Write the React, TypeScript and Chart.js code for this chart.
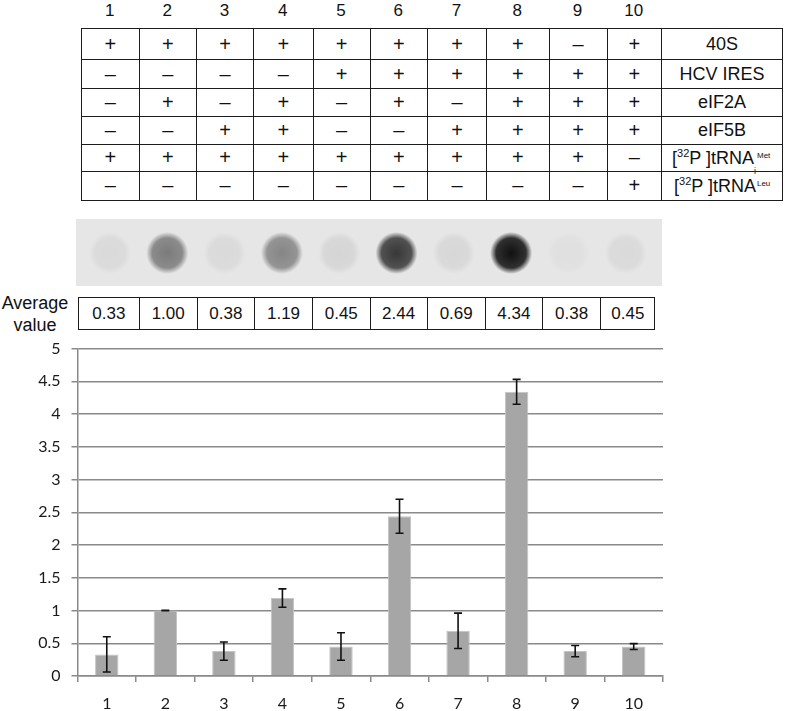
import React, { useEffect, useRef } from "react";
import { Chart, registerables } from "chart.js";

Chart.register(...registerables);

// ---------- data ----------
const lanes = ["1", "2", "3", "4", "5", "6", "7", "8", "9", "10"];
const averageValues = [0.33, 1.0, 0.38, 1.19, 0.45, 2.44, 0.69, 4.34, 0.38, 0.45];
const errorValues = [0.27, 0.004, 0.14, 0.14, 0.21, 0.26, 0.27, 0.19, 0.085, 0.045];
const blotDensity = [0.06, 0.5, 0.06, 0.45, 0.08, 0.82, 0.07, 1.0, 0.03, 0.06];
const yTicks = [0, 0.5, 1, 1.5, 2, 2.5, 3, 3.5, 4, 4.5, 5];

const row40S = ["+", "+", "+", "+", "+", "+", "+", "+", "–", "+"];
const rowHCV = ["–", "–", "–", "–", "+", "+", "+", "+", "+", "+"];
const rowEIF2A = ["–", "+", "–", "+", "–", "+", "–", "+", "+", "+"];
const rowEIF5B = ["–", "–", "+", "+", "–", "–", "+", "+", "+", "+"];
const rowMet = ["+", "+", "+", "+", "+", "+", "+", "+", "+", "–"];
const rowLeu = ["–", "–", "–", "–", "–", "–", "–", "–", "–", "+"];

const rowLabels: React.ReactNode[] = [
  "40S",
  "HCV IRES",
  "eIF2A",
  "eIF5B",
  <span key="met">
    [<sup style={{ fontSize: 11 }}>32</sup>P ]tRNA
    <span style={{ display: "inline-block", position: "relative", width: 18 }}>
      <span style={{ position: "absolute", left: 0, top: 2, fontSize: 9 }}>i</span>
      <span style={{ position: "absolute", left: 3, top: -13, fontSize: 8 }}>Met</span>
    </span>
  </span>,
  <span key="leu">
    [<sup style={{ fontSize: 11 }}>32</sup>P ]tRNA
    <span style={{ display: "inline-block", position: "relative", width: 14 }}>
      <span style={{ position: "absolute", left: 1, top: -13, fontSize: 8 }}>Leu</span>
    </span>
  </span>,
];
const tableRows = [row40S, rowHCV, rowEIF2A, rowEIF5B, rowMet, rowLeu];

// ---------- layout ----------
const colEdges = [81, 138.5, 196, 253, 312.5, 369.5, 427, 486, 548.5, 606.5, 661, 783];
const rowEdges = [28, 59, 88, 116, 143.5, 170.5, 200.5];
const avgEdges = [78, 138.7, 196.7, 254, 312, 369.5, 426.7, 484.7, 542, 600.3, 655.3];
const LINE = "1.5px solid #1c1c1c";
const ARIAL = '"Liberation Sans", Arial, sans-serif';

const errorBarPlugin = {
  id: "errorBars",
  afterDatasetsDraw(chart: any) {
    const meta = chart.getDatasetMeta(0);
    const y = chart.scales.y;
    const ctx = chart.ctx;
    ctx.save();
    ctx.strokeStyle = "#111";
    ctx.lineWidth = 1.6;
    meta.data.forEach((bar: any, i: number) => {
      const v = averageValues[i];
      const e = errorValues[i];
      const x = bar.x;
      const top = y.getPixelForValue(v + e);
      const bot = y.getPixelForValue(v - e);
      const cap = 4;
      ctx.beginPath();
      ctx.moveTo(x, top);
      ctx.lineTo(x, bot);
      ctx.moveTo(x - cap, top);
      ctx.lineTo(x + cap, top);
      ctx.moveTo(x - cap, bot);
      ctx.lineTo(x + cap, bot);
      ctx.stroke();
    });
    ctx.restore();
  },
};

function BarChart() {
  const ref = useRef<HTMLCanvasElement>(null);
  useEffect(() => {
    if (!ref.current) return;
    const gridColor = "#8a8a8a";
    const chart = new Chart(ref.current, {
      type: "bar",
      data: {
        labels: lanes,
        datasets: [
          {
            data: averageValues,
            backgroundColor: "#a6a6a6",
            borderColor: "#c4c4c4",
            borderWidth: 1,
            barPercentage: 0.4,
            categoryPercentage: 1,
          },
        ],
      },
      options: {
        animation: false,
        responsive: true,
        maintainAspectRatio: false,
        layout: { padding: { left: 0, right: 122, top: 0, bottom: 0 } },
        plugins: { legend: { display: false }, tooltip: { enabled: false } },
        scales: {
          x: {
            offset: true,
            grid: {
              display: true,
              drawOnChartArea: false,
              drawTicks: true,
              tickLength: 6,
              color: gridColor,
              lineWidth: 1.5,
              offset: true,
            },
            border: { color: gridColor, width: 1.5 },
            ticks: {
              color: "#1a1a1a",
              font: { family: "Lato", size: 16 },
              padding: 12,
            },
            afterFit: (s: any) => {
              s.height = 35;
            },
          },
          y: {
            min: 0,
            max: 5,
            afterBuildTicks: (s: any) => {
              s.ticks = yTicks.map((v) => ({ value: v }));
            },
            grid: {
              color: gridColor,
              lineWidth: 1.5,
              tickLength: 6,
              drawTicks: true,
            },
            border: { color: gridColor, width: 1.5 },
            ticks: {
              color: "#1a1a1a",
              font: { family: "Lato", size: 16 },
              padding: 11,
              callback: (v: any) => String(v),
            },
            afterFit: (s: any) => {
              s.width = 77.5;
            },
          },
        },
      },
      plugins: [errorBarPlugin],
    });
    return () => chart.destroy();
  }, []);
  return (
    <div style={{ position: "absolute", left: 0, top: 328, width: 785, height: 383 }}>
      <canvas ref={ref} />
    </div>
  );
}

function Blot() {
  const left = 76;
  const width = 586;
  const gradients = blotDensity.map((d, i) => {
    const cx = 34 + i * 57.3;
    const a = Math.min(0.95, d * 0.93);
    return `radial-gradient(circle 21px at ${cx}px 34px, rgba(0,0,0,${a}) 0px, rgba(0,0,0,${a * 0.85}) 15px, rgba(0,0,0,0) 21px)`;
  });
  return (
    <div
      style={{
        position: "absolute",
        left,
        top: 219,
        width,
        height: 67,
        backgroundColor: "#e6e6e6",
        backgroundImage: gradients.join(","),
      }}
    />
  );
}

function ConditionTable() {
  const cells: React.ReactNode[] = [];
  for (let r = 0; r < tableRows.length; r++) {
    for (let c = 0; c < 11; c++) {
      const x = colEdges[c];
      const y = rowEdges[r];
      const w = colEdges[c + 1] - x;
      const h = rowEdges[r + 1] - y;
      const isLabel = c === 10;
      const content = !isLabel ? tableRows[r][c] : rowLabels[r];
      cells.push(
        <div
          key={`${r}-${c}`}
          style={{
            position: "absolute",
            left: x,
            top: y,
            width: w,
            height: h,
            boxSizing: "border-box",
            borderLeft: LINE,
            borderTop: LINE,
            borderRight: isLabel ? LINE : undefined,
            borderBottom: r === tableRows.length - 1 ? LINE : undefined,
            display: "flex",
            alignItems: "center",
            justifyContent: "center",
            fontFamily: ARIAL,
            fontSize: isLabel ? 18 : 20,
            color: "#111",
            whiteSpace: "nowrap",
          }}
        >
          {content}
        </div>
      );
    }
  }
  const headers = lanes.map((l, c) => (
    <div
      key={`h${c}`}
      style={{
        position: "absolute",
        left: colEdges[c],
        top: 1,
        width: colEdges[c + 1] - colEdges[c],
        textAlign: "center",
        fontFamily: ARIAL,
        fontSize: 17,
        color: "#111",
      }}
    >
      {l}
    </div>
  ));
  return (
    <>
      {headers}
      {cells}
    </>
  );
}

function AverageRow() {
  return (
    <>
      <div
        style={{
          position: "absolute",
          left: 0,
          top: 292,
          width: 70,
          textAlign: "center",
          fontFamily: ARIAL,
          fontSize: 18,
          lineHeight: "22px",
          color: "#111",
        }}
      >
        Average
        <br />
        value
      </div>
      {averageValues.map((v, i) => (
        <div
          key={i}
          style={{
            position: "absolute",
            left: avgEdges[i],
            top: 297,
            width: avgEdges[i + 1] - avgEdges[i],
            height: 33,
            boxSizing: "border-box",
            borderLeft: LINE,
            borderTop: LINE,
            borderBottom: LINE,
            borderRight: i === averageValues.length - 1 ? LINE : undefined,
            display: "flex",
            alignItems: "center",
            justifyContent: "center",
            fontFamily: ARIAL,
            fontSize: 17,
            color: "#111",
          }}
        >
          {v.toFixed(2)}
        </div>
      ))}
    </>
  );
}

export default function App() {
  return (
    <div
      style={{
        position: "absolute",
        left: 0,
        top: 0,
        width: 785,
        height: 711,
        background: "#fff",
        overflow: "hidden",
      }}
    >
      <div style={{ position: "absolute", left: 0, top: 0, width: 785, height: 711 }}>
        <ConditionTable />
      </div>
      <Blot />
      <AverageRow />
      <BarChart />
    </div>
  );
}
